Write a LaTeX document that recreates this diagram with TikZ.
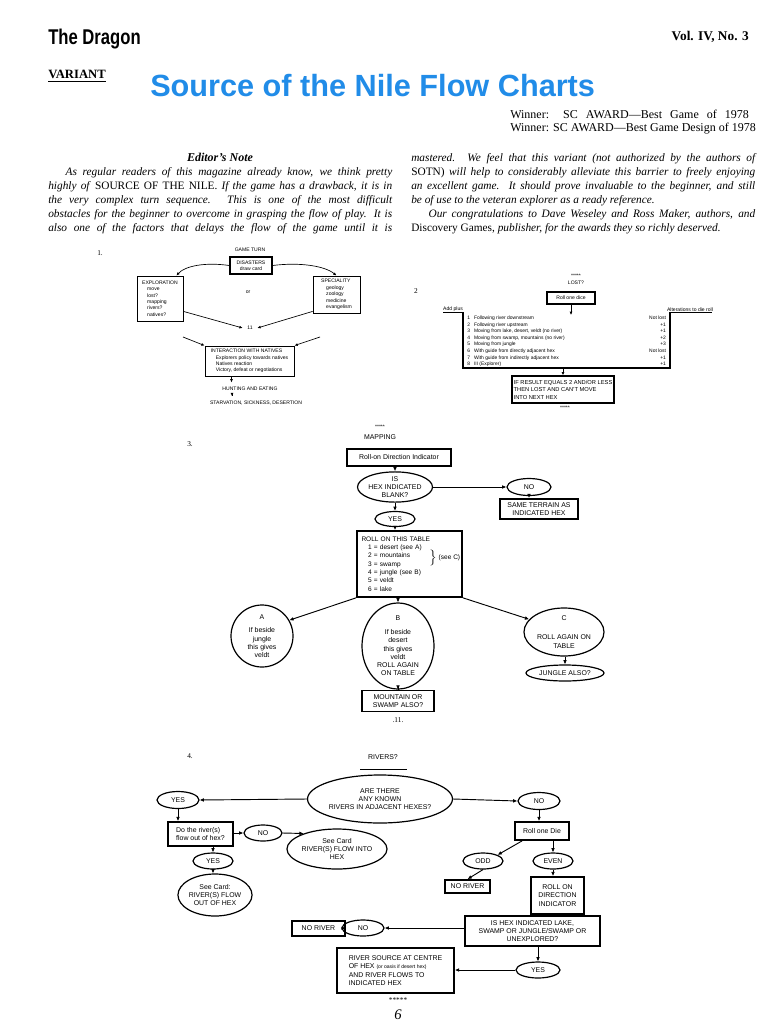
\documentclass[tikz,border=0pt]{standalone}
\usepackage{fontspec}
\setmainfont{Liberation Serif}
\setsansfont{Liberation Sans}
\usetikzlibrary{shapes.geometric,arrows.meta,calc}
\definecolor{titleblue}{RGB}{33,140,232}
\newcommand{\jline}[1]{\makebox[258pt][s]{#1}}
\begin{document}
\begin{tikzpicture}[x=0.75pt,y=-0.75pt,
  sz/.style 2 args={minimum width={#1*0.75pt},minimum height={#2*0.75pt}},
  fa/.style={font=\sffamily\fontsize{3.8}{4.8}\selectfont},
  fb/.style={font=\sffamily\fontsize{5.2}{6.2}\selectfont},
  bx/.style={draw,line width=0.6pt,inner sep=1pt,align=center},
  tbx/.style={draw,line width=1.3pt,inner sep=1pt,align=center},
  el/.style={draw,ellipse,line width=0.9pt,inner sep=0pt,align=center},
  arr/.style={-{Latex[length=3.2pt,width=2.8pt]},line width=0.7pt},
  arrs/.style={-{Latex[length=2.5pt,width=2.2pt]},line width=0.5pt},
  body/.style={font=\fontsize{8.5}{10}\selectfont\itshape,anchor=base west,inner sep=0pt},
  lbl/.style={font=\fontsize{5.5}{6}\selectfont,inner sep=0pt}]

\fill[white] (0,0) rectangle (768,1024);
\useasboundingbox (0,0) rectangle (768,1024);

% ---------------- header ----------------
\node[anchor=base west,inner sep=0pt,font=\sffamily\bfseries\fontsize{16}{16}\selectfont] (dragon) at (48,45) {\scalebox{0.78}[1]{The Dragon}};
\node[anchor=base east,inner sep=0pt,font=\bfseries\fontsize{10}{10}\selectfont] (vol) at (749,41) {Vol. IV, No. 3};
\node[anchor=base west,inner sep=0pt,font=\bfseries\fontsize{9.5}{10}\selectfont] (variant) at (48,79) {\underline{VARIANT}};
\node[anchor=base west,inner sep=0pt,font=\sffamily\bfseries\fontsize{23}{23}\selectfont,text=titleblue] (title) at (150,97) {Source of the Nile Flow Charts};
\node[anchor=base west,inner sep=0pt,font=\fontsize{9}{10}\selectfont] (win1) at (510,118) {\makebox[179pt][s]{Winner: SC AWARD—Best Game of 1978}};
\node[anchor=base west,inner sep=0pt,font=\fontsize{9}{10}\selectfont] (win2) at (510,132) {Winner: SC AWARD—Best Game Design of 1978};

% ---------------- editor's note ----------------
\node[font=\bfseries\itshape\fontsize{9}{10}\selectfont,inner sep=0pt] (ednote) at (220,157) {Editor’s Note};
\node[body] (l1) at (48,175) {\jline{\hspace*{13pt}As regular readers of this magazine already know, we think pretty}};
\node[body] (l2) at (48,189) {\jline{highly of \textup{SOURCE OF THE NILE.} If the game has a drawback, it is in}};
\node[body] (l3) at (48,203) {\jline{the very complex turn sequence. This is one of the most difficult}};
\node[body] (l4) at (48,217) {\jline{obstacles for the beginner to overcome in grasping the flow of play. It is}};
\node[body] (l5) at (48,231) {\jline{also one of the factors that delays the flow of the game until it is}};
\node[body] (r1) at (411,161) {\jline{mastered. We feel that this variant (not authorized by the authors of}};
\node[body] (r2) at (411,175) {\jline{\textup{SOTN)} will help to considerably alleviate this barrier to freely enjoying}};
\node[body] (r3) at (411,189) {\jline{an excellent game. It should prove invaluable to the beginner, and still}};
\node[body] (r4) at (411,203) {be of use to the veteran explorer as a ready reference.};
\node[body] (r5) at (411,217) {\jline{\hspace*{13pt}Our congratulations to Dave Weseley and Ross Maker, authors, and}};
\node[body] (r6) at (411,231) {\textup{Discovery Games,} publisher, for the awards they so richly deserved.};

% ---------------- chart 1 ----------------
\node[lbl] (c1num) at (100,253) {1.};
\node[fa] (gameturn) at (250,250) {GAME TURN};
\node[bx,fa,line width=1pt,sz={42}{17}] (dis) at (251,265.5) {DISASTERS\\draw card};
\node[bx,fa,sz={46}{45},align=left] (exp) at (160,298.5) {EXPLORATION\\\quad move\\\quad lost?\\\quad mapping\\\quad rivers?\\\quad natives?};
\node[bx,fa,sz={47}{37},align=left] (spe) at (336.5,294.5) {SPECIALITY\\\quad geology\\\quad zoology\\\quad medicine\\\quad evangelism};
\node[fa] (or) at (248,292) {or};
\node[fa] (n11) at (250,328) {11};
\coordinate (c1a) at (183,337);
\coordinate (c1b) at (320,337);
\node[bx,fa,sz={89}{30},align=left] (int) at (249.5,361) {INTERACTION WITH NATIVES\\\quad Explorers policy towards natives\\\quad Natives reaction\\\quad Victory, defeat or negotiations};
\node[fa] (hunt) at (250,389) {HUNTING AND EATING};
\node[fa] (starv) at (256,403) {STARVATION, SICKNESS, DESERTION};
\coordinate (ia) at ($(int.south)+(-18,0)$);
\coordinate (ha) at ($(hunt.south)+(-18,0)$);

\draw[arrs] (dis.west) .. controls (205,262) and (185,266) .. ($(exp.north east)+(-7,0)$);
\draw[arrs] (dis.east) .. controls (300,262) and (325,266) .. (spe.north);
\draw[arrs] ($(exp.south east)+(0,-10)$) -- (n11.west);
\draw[arrs] ($(spe.south west)+(0,-2)$) -- (n11.east);
\draw[arrs] (c1a) -- (int.north west);
\draw[arrs] (c1b) -- (int.north east);
\draw[arrs] (ia) -- (ia |- hunt.north);
\draw[arrs] (ha) -- (ha |- starv.north);

% ---------------- chart 2 ----------------
\node[lbl] (c2num) at (416,291) {2};
\node[fa] (st2) at (576,276) {*****};
\node[fa] (lost) at (576,283) {LOST?};
\node[bx,fa,line width=0.9pt,sz={48}{12}] (roll2) at (571,298) {Roll one dice};
\node[fa,anchor=south,inner sep=0.5pt] (addp) at (453,312) {Add plus};
\node[fa,anchor=south,inner sep=0.5pt] (alt) at (690,312) {Alterations to die roll};
\draw[line width=0.6pt] (443,312) -- (463,312);
\draw[line width=1pt] (463,312) -- (463,368) -- (670,368) -- (670,312);
\draw[line width=0.6pt] (670,312) -- (712,312);
\coordinate (r2end) at (571,315);
\coordinate (b2) at (563,368);
\draw[arrs] (roll2.south) -- (r2end);
\node[anchor=north west,inner sep=0pt,font=\sffamily\fontsize{3.7}{4.9}\selectfont] (items) at (467,315) {%
\begin{tabular*}{149pt}{@{}l@{\hspace{3pt}}l@{\extracolsep{\fill}}r@{}}
1&Following river downstream&Not lost\\
2&Following river upstream&+1\\
3&Moving from lake, desert, veldt (no river)&+1\\
4&Moving from swamp, mountains (no river)&+2\\
5&Moving from jungle&+3\\
6&With guide from directly adjacent hex&Not lost\\
7&With guide from indirectly adjacent hex&+1\\
8&III (Explorer)&+1
\end{tabular*}};
\node[bx,line width=0.9pt,sz={102}{27},align=left,font=\sffamily\fontsize{4.3}{5.6}\selectfont] (res) at (563,389.5) {IF RESULT EQUALS 2 AND/OR LESS\\THEN LOST AND CAN'T MOVE\\INTO NEXT HEX};
\draw[arrs] (b2) -- (res.north);
\node[fa] (st2b) at (565,408) {*****};

% ---------------- chart 3 ----------------
\node[lbl] (c3num) at (190,444) {3.};
\node[fa] (st3) at (380,427) {*****};
\node[fb] (mapping) at (380,437) {MAPPING};
\node[bx,fb,line width=0.8pt,sz={104}{17}] (rdi) at (399,457.5) {Roll-on Direction Indicator};
\node[el,fb,sz={74}{30}] (blank) at (395,487) {IS\\HEX INDICATED\\BLANK?};
\node[el,fb,sz={44}{17}] (no3) at (529,487) {NO};
\node[tbx,fb,sz={78}{20}] (same) at (539,509) {SAME TERRAIN AS\\INDICATED HEX};
\node[el,fb,sz={40}{15}] (yes3) at (395,519) {YES};
\node[tbx,sz={105}{66},text width=72pt,align=left,inner xsep=3.5pt,inner ysep=2pt,font=\sffamily\fontsize{4.9}{6.2}\selectfont] (table) at (409.5,564) {%
ROLL ON THIS TABLE\\
\hspace*{5pt}1 = desert (see A)\\
\hspace*{5pt}2 = mountains\\
\hspace*{5pt}3 = swamp\\
\hspace*{5pt}4 = jungle (see B)\\
\hspace*{5pt}5 = veldt\\
\hspace*{5pt}6 = lake};
\node[anchor=west,inner sep=0pt,font=\sffamily\fontsize{4.9}{6.2}\selectfont] (seec) at (428,558) {$\left.\rule[-4pt]{0pt}{9.5pt}\right\}$\,(see C)};
\node[el,fb,sz={62}{62}] (ea) at (262,636) {A\\[4pt]If beside\\jungle\\this gives\\veldt};
\node[el,fb,sz={72}{86}] (eb) at (398,646) {B\\[4pt]If beside\\desert\\this gives\\veldt\\ROLL AGAIN\\ON TABLE};
\node[el,fb,sz={80}{48}] (ec) at (564,632) {C\\[8pt]ROLL AGAIN ON\\TABLE};
\node[el,fb,sz={78}{16}] (jung) at (565,673) {JUNGLE ALSO?};
\node[tbx,fb,sz={72}{21}] (mtn) at (398,701) {MOUNTAIN OR\\SWAMP ALSO?};
\node[lbl] (n11b) at (398,720) {.11.};

\draw[arr] (rdi.south -| blank.north) -- (blank.north);
\draw[arr] (blank.east) -- (no3.west);
\draw[arr] (no3.south) -- (no3.south |- same.north);
\draw[arr] (blank.south) -- (yes3.north);
\draw[arr] (yes3.south) -- (yes3.south |- table.north);
\draw[arr] (table.south west) -- (ea.30);
\draw[arr] (table.south -| eb.north) -- (eb.north);
\draw[arr] (table.south east) -- (ec.160);
\draw[arr] (ec.south -| jung.north) -- (jung.north);
\draw[arr] (eb.south) -- (mtn.north);

% ---------------- chart 4 ----------------
\node[lbl] (c4num) at (190,756) {4.};
\node[fb] (rivers) at (383,757) {RIVERS?};
\draw[line width=0.6pt] (360,769) -- (407,769);
\node[el,fb,sz={118}{48}] (big) at (380,799) {ARE THERE\\ANY KNOWN\\RIVERS IN ADJACENT HEXES?};
\node[el,fb,sz={42}{17}] (yesL) at (178,800) {YES};
\node[el,fb,sz={42}{17}] (noR) at (539,801) {NO};
\node[tbx,fb,sz={65}{24},align=left] (dor) at (200.5,834) {Do the river(s)\\flow out of hex?};
\node[el,fb,sz={38}{16}] (no4a) at (263,833) {NO};
\node[el,fb,sz={72}{40}] (seein) at (337,849) {See Card\\RIVER(S) FLOW INTO\\HEX};
\node[el,fb,sz={40}{16}] (yes4a) at (213,861) {YES};
\node[el,fb,sz={70}{42}] (seeout) at (215,895) {See Card:\\RIVER(S) FLOW\\OUT OF HEX};
\node[tbx,fb,sz={54}{18}] (roll1) at (542,831) {Roll one Die};
\node[el,fb,sz={40}{16}] (odd) at (483,861) {ODD};
\node[el,fb,sz={40}{16}] (even) at (553,861) {EVEN};
\node[tbx,fb,sz={45}{13}] (noriv1) at (467.5,886.5) {NO RIVER};
\node[tbx,fb,sz={53}{37}] (rodi) at (557.5,895.5) {ROLL ON\\DIRECTION\\INDICATOR};
\node[tbx,fb,sz={135}{30}] (ishex) at (532.5,931) {IS HEX INDICATED LAKE,\\SWAMP OR JUNGLE/SWAMP OR\\UNEXPLORED?};
\node[el,fb,sz={42}{16}] (no4b) at (363,928) {NO};
\node[tbx,fb,sz={53}{15}] (noriv2) at (318.5,928.5) {NO RIVER};
\node[el,fb,sz={44}{16}] (yes4b) at (538,970) {YES};
\node[tbx,fb,sz={117}{45},align=left] (src) at (395.5,970.5) {RIVER SOURCE AT CENTRE\\OF HEX {\fontsize{3.8}{4}\selectfont(or oasis if desert hex)}\\AND RIVER FLOWS TO\\INDICATED HEX};
\node[lbl] (st4) at (398,1000) {*****};
\node[font=\itshape\fontsize{11}{11}\selectfont,inner sep=0pt] (pg) at (398,1015) {6};

\draw[arr] (big.west) -- (yesL.east);
\draw[arr] (big.east) -- (noR.west);
\draw[arr] (yesL.south) -- (yesL.south |- dor.north);
\draw[arr] (dor.east |- no4a.west) -- (no4a.west);
\draw[arr] (no4a.east) -- (seein.155);
\draw[arr] (dor.south -| yes4a.north) -- (yes4a.north);
\draw[arr] (yes4a.south) -- (yes4a.south |- seeout.north);
\draw[arr] (noR.south) -- (noR.south |- roll1.north);
\draw[arr] ($(roll1.south west)+(8,0)$) -- (odd.north east);
\draw[arr] (roll1.south -| even.north) -- (even.north);
\draw[arr] (odd.south) -- (noriv1.north);
\draw[arr] (even.south) -- (even.south |- rodi.north);
\draw[line width=0.8pt] (rodi.south) -- (rodi.south |- ishex.north);
\draw[arr] (ishex.west |- no4b.east) -- (no4b.east);
\draw[arr] (no4b.west) -- (noriv2.east);
\draw[arr] (ishex.south -| yes4b.north) -- (yes4b.north);
\draw[arr] (yes4b.west) -- (src.east |- yes4b.west);
\end{tikzpicture}
\end{document}
